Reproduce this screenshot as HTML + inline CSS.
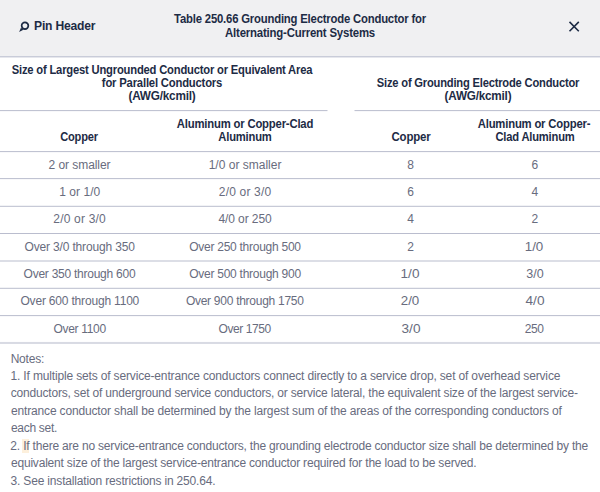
<!DOCTYPE html>
<html><head><meta charset="utf-8"><title>Table 250.66 Grounding Electrode Conductor</title>
<style>
html,body{margin:0;padding:0;}
body{width:600px;height:492px;overflow:hidden;background:#fff;position:relative;font-family:"Liberation Sans",Arial,sans-serif;color:#686c7e;}
.hdr{position:absolute;left:0;top:0;width:600px;height:56px;background:#f0f0f2;border-bottom:1px solid #c9ccd9;box-shadow:0 1px 0 #e6e7ed;}
.t{position:absolute;white-space:nowrap;line-height:14px;}
.l{position:absolute;}
.hl{background:#fdf0dc;padding-left:1px;margin-left:-1px;}
svg{position:absolute;left:0;top:0;}
.lines{shape-rendering:geometricPrecision;}
</style></head><body>
<div class="hdr"></div>
<svg width="600" height="60" viewBox="0 0 600 60">
<circle cx="25.0" cy="25.75" r="3.35" fill="none" stroke="#1d2b45" stroke-width="1.7"/>
<path d="M21.0 27.7 L23.4 29.7 L19.1 32.0 Z" fill="#1d2b45"/>
<path d="M569.5 21.9 L578.8 31.2 M578.8 21.9 L569.5 31.2" stroke="#1d2b45" stroke-width="1.6" fill="none"/>
</svg>
<svg class="lines" width="600" height="492" viewBox="0 0 600 492"><rect x="0" y="110.10" width="327.5" height="1.0" fill="#babdce"/><rect x="354.5" y="110.10" width="245.5" height="1.0" fill="#babdce"/><rect x="0" y="151.10" width="600" height="1.0" fill="#babdce"/><rect x="0" y="178.10" width="600" height="1.0" fill="#babdce"/><rect x="0" y="205.80" width="600" height="1.0" fill="#babdce"/><rect x="0" y="233.00" width="600" height="1.0" fill="#babdce"/><rect x="0" y="260.50" width="600" height="1.0" fill="#babdce"/><rect x="0" y="287.80" width="600" height="1.0" fill="#babdce"/><rect x="0" y="315.10" width="600" height="1.0" fill="#babdce"/><rect x="0" y="341.95" width="600" height="2.0" fill="#d8dae3"/></svg>
<div class="t" id="title1" style="top:12.00px;font-size:12.0px;letter-spacing:-0.200px;font-weight:700;transform:scaleX(0.9422);color:#1d2b45;left:49.85px;width:500px;text-align:center;">Table 250.66 Grounding Electrode Conductor for</div><div class="t" id="title2" style="top:26.00px;font-size:12.0px;letter-spacing:-0.200px;font-weight:700;transform:scaleX(0.9492);color:#1d2b45;left:50.47px;width:500px;text-align:center;">Alternating-Current Systems</div><div class="t" id="pin" style="top:19.00px;font-size:12.6px;letter-spacing:-0.200px;font-weight:700;transform:scaleX(0.9618);transform-origin:0 0;color:#1d2b45;left:33.89px;">Pin Header</div><div class="t" id="g1l1" style="top:63.00px;font-size:12.0px;letter-spacing:-0.200px;font-weight:700;transform:scaleX(0.9336);color:#1d2b45;left:-87.58px;width:500px;text-align:center;">Size of Largest Ungrounded Conductor or Equivalent Area</div><div class="t" id="g1l2" style="top:76.00px;font-size:12.0px;letter-spacing:-0.200px;font-weight:700;transform:scaleX(0.9390);color:#1d2b45;left:-87.66px;width:500px;text-align:center;">for Parallel Conductors</div><div class="t" id="g1l3" style="top:89.00px;font-size:12.0px;letter-spacing:-0.200px;font-weight:700;transform:scaleX(0.9801);color:#1d2b45;left:-88.20px;width:500px;text-align:center;">(AWG/kcmil)</div><div class="t" id="g2l1" style="top:76.00px;font-size:12.0px;letter-spacing:-0.200px;font-weight:700;transform:scaleX(0.9287);color:#1d2b45;left:227.81px;width:500px;text-align:center;">Size of Grounding Electrode Conductor</div><div class="t" id="g2l2" style="top:89.00px;font-size:12.0px;letter-spacing:-0.200px;font-weight:700;transform:scaleX(0.9750);color:#1d2b45;left:228.19px;width:500px;text-align:center;">(AWG/kcmil)</div><div class="t" id="copper1" style="top:130.00px;font-size:12.0px;letter-spacing:-0.200px;font-weight:700;transform:scaleX(0.9225);color:#1d2b45;left:-170.58px;width:500px;text-align:center;">Copper</div><div class="t" id="c2l1" style="top:117.00px;font-size:12.0px;letter-spacing:-0.200px;font-weight:700;transform:scaleX(0.9419);color:#1d2b45;left:-5.14px;width:500px;text-align:center;">Aluminum or Copper-Clad</div><div class="t" id="c2l2" style="top:130.00px;font-size:12.0px;letter-spacing:-0.200px;font-weight:700;transform:scaleX(0.9349);color:#1d2b45;left:-5.48px;width:500px;text-align:center;">Aluminum</div><div class="t" id="copper3" style="top:130.00px;font-size:12.0px;letter-spacing:-0.200px;font-weight:700;transform:scaleX(0.9529);color:#1d2b45;left:160.62px;width:500px;text-align:center;">Copper</div><div class="t" id="c4l1" style="top:117.00px;font-size:12.0px;letter-spacing:-0.200px;font-weight:700;transform:scaleX(0.9418);color:#1d2b45;left:283.80px;width:500px;text-align:center;">Aluminum or Copper-</div><div class="t" id="c4l2" style="top:130.00px;font-size:12.0px;letter-spacing:-0.200px;font-weight:700;transform:scaleX(0.9319);color:#1d2b45;left:285.23px;width:500px;text-align:center;">Clad Aluminum</div><div class="t" id="r0c0" style="top:158.00px;font-size:12.0px;letter-spacing:-0.068px;left:-170.47px;width:500px;text-align:center;">2 or smaller</div><div class="t" id="r0c1" style="top:158.00px;font-size:12.0px;letter-spacing:0.013px;left:-4.95px;width:500px;text-align:center;">1/0 or smaller</div><div class="t" id="r0c2" style="top:158.00px;font-size:12.0px;letter-spacing:-0.170px;left:160.40px;width:500px;text-align:center;">8</div><div class="t" id="r0c3" style="top:158.00px;font-size:12.0px;letter-spacing:-0.170px;left:284.75px;width:500px;text-align:center;">6</div><div class="t" id="r1c0" style="top:185.00px;font-size:12.0px;letter-spacing:0.053px;left:-170.32px;width:500px;text-align:center;">1 or 1/0</div><div class="t" id="r1c1" style="top:185.00px;font-size:12.0px;letter-spacing:0.181px;left:-4.92px;width:500px;text-align:center;">2/0 or 3/0</div><div class="t" id="r1c2" style="top:185.00px;font-size:12.0px;letter-spacing:-0.170px;left:160.40px;width:500px;text-align:center;">6</div><div class="t" id="r1c3" style="top:185.00px;font-size:12.0px;letter-spacing:-0.170px;left:284.75px;width:500px;text-align:center;">4</div><div class="t" id="r2c0" style="top:212.00px;font-size:12.0px;letter-spacing:0.196px;left:-170.35px;width:500px;text-align:center;">2/0 or 3/0</div><div class="t" id="r2c1" style="top:212.00px;font-size:12.0px;letter-spacing:-0.082px;left:-5.00px;width:500px;text-align:center;">4/0 or 250</div><div class="t" id="r2c2" style="top:212.00px;font-size:12.0px;letter-spacing:-0.170px;left:160.40px;width:500px;text-align:center;">4</div><div class="t" id="r2c3" style="top:212.00px;font-size:12.0px;letter-spacing:-0.170px;left:284.75px;width:500px;text-align:center;">2</div><div class="t" id="r3c0" style="top:240.00px;font-size:12.0px;letter-spacing:-0.157px;left:-170.39px;width:500px;text-align:center;">Over 3/0 through 350</div><div class="t" id="r3c1" style="top:240.00px;font-size:12.0px;letter-spacing:-0.256px;left:-5.02px;width:500px;text-align:center;">Over 250 through 500</div><div class="t" id="r3c2" style="top:240.00px;font-size:12.0px;letter-spacing:-0.170px;left:160.40px;width:500px;text-align:center;">2</div><div class="t" id="r3c3" style="top:240.00px;font-size:12.0px;letter-spacing:0.000px;transform:scaleX(1.1120);left:283.97px;width:500px;text-align:center;">1/0</div><div class="t" id="r4c0" style="top:267.00px;font-size:12.0px;letter-spacing:-0.249px;left:-170.55px;width:500px;text-align:center;">Over 350 through 600</div><div class="t" id="r4c1" style="top:267.00px;font-size:12.0px;letter-spacing:-0.260px;left:-4.98px;width:500px;text-align:center;">Over 500 through 900</div><div class="t" id="r4c2" style="top:267.00px;font-size:12.0px;letter-spacing:0.000px;transform:scaleX(1.1296);left:160.21px;width:500px;text-align:center;">1/0</div><div class="t" id="r4c3" style="top:267.00px;font-size:12.0px;letter-spacing:0.000px;transform:scaleX(1.0430);left:284.94px;width:500px;text-align:center;">3/0</div><div class="t" id="r5c0" style="top:294.00px;font-size:12.0px;letter-spacing:-0.183px;left:-170.23px;width:500px;text-align:center;">Over 600 through 1100</div><div class="t" id="r5c1" style="top:294.00px;font-size:12.0px;letter-spacing:-0.271px;left:-5.24px;width:500px;text-align:center;">Over 900 through 1750</div><div class="t" id="r5c2" style="top:294.00px;font-size:12.0px;letter-spacing:0.000px;transform:scaleX(1.1127);left:160.35px;width:500px;text-align:center;">2/0</div><div class="t" id="r5c3" style="top:294.00px;font-size:12.0px;letter-spacing:0.000px;transform:scaleX(1.1379);left:284.61px;width:500px;text-align:center;">4/0</div><div class="t" id="r6c0" style="top:322.00px;font-size:12.0px;letter-spacing:-0.305px;left:-170.40px;width:500px;text-align:center;">Over 1100</div><div class="t" id="r6c1" style="top:322.00px;font-size:12.0px;letter-spacing:-0.420px;left:-5.35px;width:500px;text-align:center;">Over 1750</div><div class="t" id="r6c2" style="top:322.00px;font-size:12.0px;letter-spacing:0.000px;transform:scaleX(1.1350);left:160.74px;width:500px;text-align:center;">3/0</div><div class="t" id="r6c3" style="top:322.00px;font-size:12.0px;letter-spacing:-0.310px;left:284.19px;width:500px;text-align:center;">250</div><div class="t" id="n0" style="top:352.00px;font-size:12.0px;letter-spacing:-0.182px;left:10.64px;">Notes:</div><div class="t" id="n1" style="top:369.00px;font-size:12.0px;letter-spacing:-0.156px;left:10.48px;">1. If multiple sets of service-entrance conductors connect directly to a service drop, set of overhead service</div><div class="t" id="n2" style="top:386.00px;font-size:12.0px;letter-spacing:-0.187px;left:10.75px;">conductors, set of underground service conductors, or service lateral, the equivalent size of the largest service-</div><div class="t" id="n3" style="top:404.00px;font-size:12.0px;letter-spacing:-0.155px;left:10.98px;">entrance conductor shall be determined by the largest sum of the areas of the corresponding conductors of</div><div class="t" id="n4" style="top:421.00px;font-size:12.0px;letter-spacing:-0.291px;left:10.98px;">each set.</div><div class="t" id="n5" style="top:439.00px;font-size:12.0px;letter-spacing:-0.195px;left:10.36px;">2. <span class="hl">If</span> there are no service-entrance conductors, the grounding electrode conductor size shall be determined by the</div><div class="t" id="n6" style="top:456.00px;font-size:12.0px;letter-spacing:-0.196px;left:10.98px;">equivalent size of the largest service-entrance conductor required for the load to be served.</div><div class="t" id="n7" style="top:474.00px;font-size:12.0px;letter-spacing:-0.166px;left:10.47px;">3. See installation restrictions in 250.64.</div>
</body></html>
